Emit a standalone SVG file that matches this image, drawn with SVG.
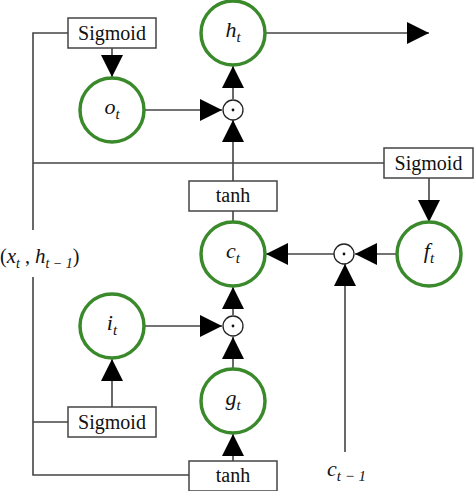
<svg xmlns="http://www.w3.org/2000/svg" width="474" height="491" viewBox="0 0 474 491">
<style>
.ln{stroke:#444;stroke-width:1.6;fill:none}
.arr{stroke:#444;stroke-width:1.6;fill:none;marker-end:url(#ah)}
.gate{fill:#fff;stroke:#3a8a2c;stroke-width:3.5}
.box{fill:#fff;stroke:#444;stroke-width:1.5}
.op{fill:#fff;stroke:#222;stroke-width:1.3}
.t{font-family:"Liberation Serif","Times New Roman",serif;font-size:20px;fill:#111}
.it{font-family:"Liberation Serif","Times New Roman",serif;font-size:22px;font-style:italic;fill:#111}
.sub{font-size:15px}
</style>
<defs>
<marker id="ah" markerUnits="userSpaceOnUse" markerWidth="22" markerHeight="22" refX="22" refY="11" orient="auto">
<path d="M0,0 L22,11 L0,22 z" fill="#000"/>
</marker>
</defs>
<rect width="474" height="491" fill="#fff"/>
<g id="connectors">
<polyline class="ln" points="68,33 33,33 33,230"/>
<polyline class="ln" points="33,277 33,475 189,475"/>
<line class="ln" x1="33" y1="163" x2="384" y2="163"/>
<line class="ln" x1="33" y1="422" x2="68" y2="422"/>
<line class="arr" x1="112" y1="48" x2="112" y2="77"/>
<line class="arr" x1="145" y1="110" x2="222" y2="110"/>
<line class="arr" x1="233" y1="99" x2="233" y2="66"/>
<line class="arr" x1="266" y1="33" x2="429" y2="33"/>
<line class="arr" x1="233" y1="181" x2="233" y2="120"/>
<line class="arr" x1="429" y1="178" x2="429" y2="222"/>
<line class="arr" x1="397" y1="254" x2="355" y2="254"/>
<line class="arr" x1="334" y1="254" x2="266" y2="254"/>
<line class="arr" x1="345" y1="452" x2="345" y2="264"/>
<line class="ln" x1="233" y1="211" x2="233" y2="221"/>
<line class="arr" x1="145" y1="326" x2="222" y2="326"/>
<line class="arr" x1="233" y1="315" x2="233" y2="287"/>
<line class="arr" x1="233" y1="368" x2="233" y2="337"/>
<line class="arr" x1="112" y1="407" x2="112" y2="359"/>
<line class="arr" x1="233" y1="461" x2="233" y2="434"/>
</g>
<g id="sigmoid_o"><rect class="box" x="68" y="18" width="88" height="30"/><text class="t" x="112" y="39.5" text-anchor="middle">Sigmoid</text></g>
<g id="o_t"><circle class="gate" cx="112" cy="110" r="32"/><text class="it" x="112" y="114" text-anchor="middle">o<tspan class="sub" dy="5">t</tspan></text></g>
<g id="h_t"><circle class="gate" cx="233" cy="33" r="32"/><text class="it" x="233" y="37" text-anchor="middle">h<tspan class="sub" dy="5">t</tspan></text></g>
<g id="dot1"><circle class="op" cx="233" cy="110" r="10"/><circle cx="233" cy="110" r="1.4" fill="#111"/></g>
<g id="tanh_c"><rect class="box" x="189" y="181" width="88" height="30"/><text class="t" x="233" y="202" text-anchor="middle">tanh</text></g>
<g id="sigmoid_f"><rect class="box" x="384" y="148" width="89" height="30"/><text class="t" x="428.5" y="169.5" text-anchor="middle">Sigmoid</text></g>
<g id="f_t"><circle class="gate" cx="429" cy="254" r="32"/><text class="it" x="429" y="258" text-anchor="middle">f<tspan class="sub" dy="5">t</tspan></text></g>
<g id="dot2"><circle class="op" cx="344" cy="254" r="10"/><circle cx="344" cy="254" r="1.4" fill="#111"/></g>
<g id="c_t"><circle class="gate" cx="233" cy="254" r="32"/><text class="it" x="233" y="258" text-anchor="middle">c<tspan class="sub" dy="5">t</tspan></text></g>
<g id="input"><text class="t" x="0" y="263">(<tspan font-style="italic" font-size="21">x</tspan><tspan font-style="italic" font-size="14" dy="5">t</tspan><tspan dy="-5"> , </tspan><tspan font-style="italic" font-size="21">h</tspan><tspan font-style="italic" font-size="14" dy="5">t − 1</tspan><tspan dy="-5">)</tspan></text></g>
<g id="i_t"><circle class="gate" cx="112" cy="326" r="32"/><text class="it" x="112" y="330" text-anchor="middle">i<tspan class="sub" dy="5">t</tspan></text></g>
<g id="dot3"><circle class="op" cx="233" cy="326" r="10"/><circle cx="233" cy="326" r="1.4" fill="#111"/></g>
<g id="g_t"><circle class="gate" cx="233" cy="401" r="32"/><text class="it" x="233" y="405" text-anchor="middle">g<tspan class="sub" dy="5">t</tspan></text></g>
<g id="sigmoid_i"><rect class="box" x="68" y="407" width="88" height="30"/><text class="t" x="112" y="428.5" text-anchor="middle">Sigmoid</text></g>
<g id="tanh_g"><rect class="box" x="189" y="461" width="88" height="30"/><text class="t" x="233" y="482" text-anchor="middle">tanh</text></g>
<g id="c_prev"><text class="it" x="327" y="476">c<tspan class="sub" dy="5">t − 1</tspan></text></g>
</svg>
